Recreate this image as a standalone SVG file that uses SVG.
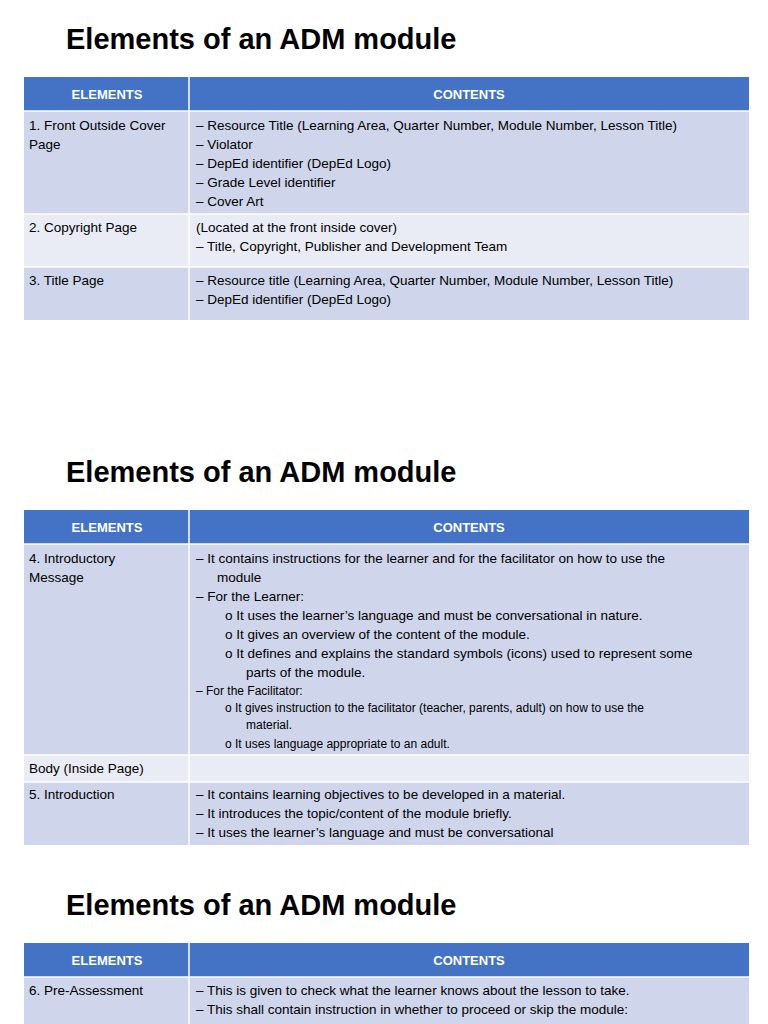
<svg xmlns="http://www.w3.org/2000/svg" width="768" height="1024" viewBox="0 0 768 1024">
<style>
.t{font-family:"Liberation Sans",Arial,sans-serif;font-size:29px;font-weight:bold;fill:#000}
.h{fill:#4472C4}.d{fill:#CFD5EA}.l{fill:#E9EBF5}
.ht{font-family:"Liberation Sans",Arial,sans-serif;font-size:13px;font-weight:bold;fill:#fff;text-anchor:middle}
.c{font-family:"Liberation Sans",Arial,sans-serif;font-size:13.5px;fill:#000}
.s{font-family:"Liberation Sans",Arial,sans-serif;font-size:12px;fill:#000}
.g{stroke:#fff;stroke-width:1.5}
</style>
<rect width="768" height="1024" fill="#fff"/>
<g id="table1">
<text class="t" x="66" y="49">Elements of an ADM module</text>
<rect class="h" x="24" y="77" width="725" height="34"/>
<rect class="d" x="24" y="111" width="725" height="103"/>
<rect class="l" x="24" y="214" width="725" height="53"/>
<rect class="d" x="24" y="267" width="725" height="53"/>
<g class="g"><line x1="189" y1="77" x2="189" y2="320"/><line x1="24" y1="111" x2="749" y2="111"/><line x1="24" y1="214" x2="749" y2="214"/><line x1="24" y1="267" x2="749" y2="267"/></g>
<text class="ht" x="107" y="99">ELEMENTS</text><text class="ht" x="469" y="99">CONTENTS</text>
<text class="c" x="29" y="130">1. Front Outside Cover</text><text class="c" x="29" y="149">Page</text>
<text class="c" x="196" y="130">–   Resource Title (Learning Area, Quarter Number, Module Number, Lesson Title)</text>
<text class="c" x="196" y="149">–   Violator</text>
<text class="c" x="196" y="168">–   DepEd identifier (DepEd Logo)</text>
<text class="c" x="196" y="187">–   Grade Level identifier</text>
<text class="c" x="196" y="206">–   Cover Art</text>
<text class="c" x="29" y="232">2. Copyright Page</text>
<text class="c" x="196" y="232">(Located at the front inside cover)</text>
<text class="c" x="196" y="251">–   Title, Copyright, Publisher and Development Team</text>
<text class="c" x="29" y="285">3. Title Page</text>
<text class="c" x="196" y="285">–   Resource title (Learning Area, Quarter Number, Module Number, Lesson Title)</text>
<text class="c" x="196" y="304">–   DepEd identifier (DepEd Logo)</text>
</g>
<g id="table2">
<text class="t" x="66" y="482">Elements of an ADM module</text>
<rect class="h" x="24" y="510" width="725" height="34"/>
<rect class="d" x="24" y="544" width="725" height="211"/>
<rect class="l" x="24" y="755" width="725" height="27"/>
<rect class="d" x="24" y="782" width="725" height="63"/>
<g class="g"><line x1="189" y1="510" x2="189" y2="845"/><line x1="24" y1="544" x2="749" y2="544"/><line x1="24" y1="755" x2="749" y2="755"/><line x1="24" y1="782" x2="749" y2="782"/></g>
<text class="ht" x="107" y="532">ELEMENTS</text><text class="ht" x="469" y="532">CONTENTS</text>
<text class="c" x="29" y="563">4. Introductory</text><text class="c" x="29" y="582">Message</text>
<text class="c" x="196" y="563">–   It contains instructions for the learner and for the facilitator on how to use the</text>
<text class="c" x="217" y="582">module</text>
<text class="c" x="196" y="601">–   For the Learner:</text>
<text class="c" x="225" y="620">o   It uses the learner’s language and must be conversational in nature.</text>
<text class="c" x="225" y="639">o   It gives an overview of the content of the module.</text>
<text class="c" x="225" y="658">o   It defines and explains the standard symbols (icons) used to represent some</text>
<text class="c" x="246" y="677">parts of the module.</text>
<text class="s" x="196" y="695">–   For the Facilitator:</text>
<text class="s" x="225" y="712">o   It gives instruction to the facilitator (teacher, parents, adult) on how to use the</text>
<text class="s" x="246" y="729">material.</text>
<text class="s" x="225" y="748">o   It uses language appropriate to an adult.</text>
<text class="c" x="29" y="773">Body (Inside Page)</text>
<text class="c" x="29" y="799">5. Introduction</text>
<text class="c" x="196" y="799">–  It contains learning objectives to be developed in a material.</text>
<text class="c" x="196" y="818">–  It introduces the topic/content of the module briefly.</text>
<text class="c" x="196" y="837">–  It uses the learner’s language and must be conversational</text>
</g>
<g id="table3">
<text class="t" x="66" y="915">Elements of an ADM module</text>
<rect class="h" x="24" y="943" width="725" height="34"/>
<rect class="d" x="24" y="977" width="725" height="47"/>
<g class="g"><line x1="189" y1="943" x2="189" y2="1024"/><line x1="24" y1="977" x2="749" y2="977"/></g>
<text class="ht" x="107" y="965">ELEMENTS</text><text class="ht" x="469" y="965">CONTENTS</text>
<text class="c" x="29" y="995">6. Pre-Assessment</text>
<text class="c" x="196" y="995">–  This is given to check what the learner knows about the lesson to take.</text>
<text class="c" x="196" y="1014">–  This shall contain instruction in whether to proceed or skip the module:</text>
</g>
</svg>
